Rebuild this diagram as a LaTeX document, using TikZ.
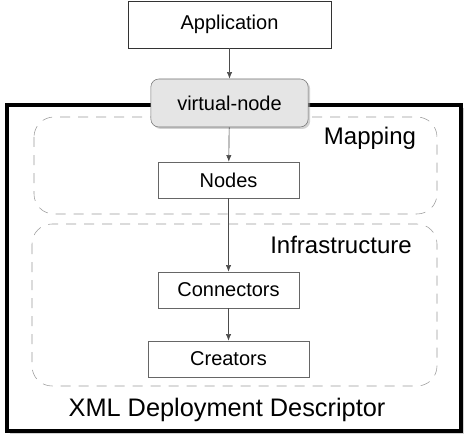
\documentclass[tikz,border=0pt]{standalone}
\usepackage{fontspec}
\setmainfont{Liberation Sans}
\usetikzlibrary{arrows.meta, shadows}

\begin{document}
\begin{tikzpicture}[x=0.75pt, y=-0.75pt,
    box/.style={draw=black!60, fill=white, inner sep=0pt, font=\fontsize{15}{18}\selectfont},
    region/.style={draw=black!40, dash pattern=on 7.5pt off 6pt, rounded corners=15pt},
    label/.style={inner sep=1pt, font=\fontsize{18}{21}\selectfont},
    link/.style={-{Latex[length=5pt, width=4pt]}, black!70, line width=0.5pt}]
    \useasboundingbox (0,0) rectangle (474,442);

    % Draw outer descriptor frame
    \draw[line width=3pt, fill=white, drop shadow={shadow xshift=2.5pt, shadow yshift=-2.5pt, fill=black!35}] (7,105) rectangle (461,431);

    % Draw dashed regions
    \draw[region] (34,117) rectangle (437,214);
    \draw[region] (32,224) rectangle (437,386);

    % Draw the boxes
    \node[box, draw=black!80, minimum width=152pt, minimum height=35.5pt] (app) at (229.5,24.5) {Application};
    \node[box, draw=black!55, fill=black!10, rounded corners=6pt, minimum width=118pt, minimum height=36pt,
          drop shadow={shadow xshift=1.5pt, shadow yshift=-1.5pt, fill=black!35}] (vnode) at (229.5,103) {virtual-node};
    \node[box, minimum width=106pt, minimum height=27pt] (nodes) at (228.5,180) {Nodes};
    \node[box, minimum width=106pt, minimum height=27pt] (conn) at (228.5,290) {Connectors};
    \node[box, minimum width=121pt, minimum height=27pt] (creat) at (228.5,359) {Creators};

    % Region labels
    \node[label] (mapping) at (370,138) {Mapping};
    \node[label] (infra) at (341,245) {Infrastructure};
    \node[label, font=\fontsize{19}{22}\selectfont] (xml) at (227,410) {XML Deployment Descriptor};

    % Draw the links
    \draw[link] (app) -- (vnode);
    \draw[link] (vnode) -- (nodes);
    \draw[link] (nodes) -- (conn);
    \draw[link] (conn) -- (creat);
\end{tikzpicture}
\end{document}
